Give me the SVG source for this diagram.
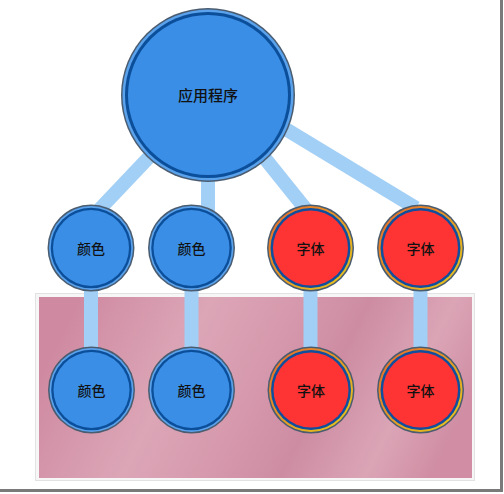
<svg xmlns="http://www.w3.org/2000/svg" xmlns:xlink="http://www.w3.org/1999/xlink" width="504" height="494" viewBox="0 0 504 494">
  <style>
    .lbl { font-family: "Noto Sans CJK SC", "Noto Sans", sans-serif; font-size: 14px; font-weight: 500; fill: #111111; text-anchor: middle; dominant-baseline: central; }
    .big { font-size: 15px; }
    .conn { stroke: #a2cff6; stroke-width: 14; fill: none; stroke-linecap: butt; }
  </style>
  <defs>
    <linearGradient id="pink" x1="0" y1="0" x2="1" y2="0" gradientTransform="rotate(12 0.5 0.5)">
      <stop offset="0" stop-color="#cf8aa1"/>
      <stop offset="0.3" stop-color="#dca6b7"/>
      <stop offset="0.5" stop-color="#d698ac"/>
      <stop offset="0.66" stop-color="#cd8ca2"/>
      <stop offset="0.85" stop-color="#dba5b6"/>
      <stop offset="1" stop-color="#d08da3"/>
    </linearGradient>
    <linearGradient id="gold" x1="0" y1="0" x2="1" y2="1">
      <stop offset="0" stop-color="#e8692c"/>
      <stop offset="0.5" stop-color="#e49a25"/>
      <stop offset="1" stop-color="#e6cc1a"/>
    </linearGradient>
    <g id="blueNode">
      <circle r="43.5" fill="#4a5c70"/>
      <circle r="42" fill="#5aa2ec"/>
      <circle r="40.3" fill="#0b4e9a"/>
      <circle r="38" fill="#3a8ee6"/>
    </g>
    <g id="redNode">
      <circle r="43.5" fill="#4a5c70"/>
      <circle r="42" fill="url(#gold)"/>
      <circle r="40" fill="#0f4f9e"/>
      <circle r="37.5" fill="#fe3434"/>
    </g>
  </defs>

  <rect x="0" y="0" width="504" height="494" fill="#ffffff"/>
  <rect x="500" y="0" width="3" height="492" fill="#7a7a7a"/>
  <rect x="0" y="489" width="503" height="3" fill="#7a7a7a"/>

  <g id="panel">
    <rect x="35.5" y="293.5" width="439" height="187" fill="#f6f6f6" stroke="#e2e2e2" stroke-width="1"/>
    <rect x="39" y="297" width="433" height="181" fill="url(#pink)"/>
  </g>

  <g id="connectors">
    <line class="conn" x1="208" y1="95" x2="97" y2="212"/>
    <line class="conn" x1="208" y1="95" x2="208" y2="222"/>
    <line class="conn" x1="214" y1="95" x2="308" y2="212"/>
    <line class="conn" x1="208" y1="82" x2="416" y2="208"/>
    <line class="conn" x1="91" y1="248" x2="91" y2="390"/>
    <line class="conn" x1="191.5" y1="248" x2="191.5" y2="390"/>
    <line class="conn" x1="310.5" y1="248" x2="310.5" y2="390"/>
    <line class="conn" x1="420.5" y1="248" x2="420.5" y2="390"/>
  </g>

  <g id="app">
    <circle cx="208" cy="95" r="87" fill="#4a5c70"/>
    <circle cx="208" cy="95" r="85.5" fill="#5aa2ec"/>
    <circle cx="208" cy="95" r="83" fill="#0b4e9a"/>
    <circle cx="208" cy="95" r="80" fill="#3a8ee6"/>
    <text class="lbl big" x="208" y="94">应用程序</text>
  </g>

  <g id="color1" transform="translate(91,248)">
    <use xlink:href="#blueNode"/>
    <text class="lbl" x="0" y="0">颜色</text>
  </g>
  <g id="color2" transform="translate(191.5,248)">
    <use xlink:href="#blueNode"/>
    <text class="lbl" x="0" y="0">颜色</text>
  </g>
  <g id="font1" transform="translate(310.5,248)">
    <use xlink:href="#redNode"/>
    <text class="lbl" x="0" y="0">字体</text>
  </g>
  <g id="font2" transform="translate(420.5,248)">
    <use xlink:href="#redNode"/>
    <text class="lbl" x="0" y="0">字体</text>
  </g>

  <g id="color3" transform="translate(91.5,390)">
    <use xlink:href="#blueNode"/>
    <text class="lbl" x="0" y="0">颜色</text>
  </g>
  <g id="color4" transform="translate(191.5,390)">
    <use xlink:href="#blueNode"/>
    <text class="lbl" x="0" y="0">颜色</text>
  </g>
  <g id="font3" transform="translate(311,390)">
    <use xlink:href="#redNode"/>
    <text class="lbl" x="0" y="0">字体</text>
  </g>
  <g id="font4" transform="translate(420.5,390)">
    <use xlink:href="#redNode"/>
    <text class="lbl" x="0" y="0">字体</text>
  </g>
</svg>
